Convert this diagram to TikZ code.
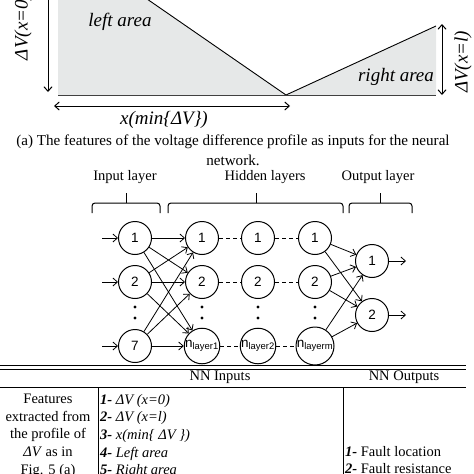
\documentclass[tikz,border=0pt]{standalone}
\usepackage{fontspec}
\setmainfont{Liberation Serif}
\setsansfont{Liberation Sans}
\usetikzlibrary{arrows.meta}

\definecolor{areagray}{HTML}{E6E8E8}

\tikzset{>={Straight Barb[length=4.5pt,width=8pt]}}
\tikzstyle{neuron} = [circle, draw, line width=1pt, minimum size=33pt,
    inner sep=0pt, font=\sffamily\fontsize{13.5}{13.5}\selectfont]
\tikzstyle{synapse} = [->, line width=0.8pt]
\tikzstyle{dashlink} = [line width=1pt, dash pattern=on 4pt off 3pt]
\tikzstyle{dimarrow} = [<->, line width=1pt]
\tikzstyle{layerbrace} = [line width=1pt, rounded corners=3pt]
\tikzstyle{ftext} = [inner sep=0pt, font=\fontsize{14.5}{17.6}\selectfont]
\tikzstyle{captext} = [inner sep=0pt, font=\fontsize{15.1}{15.1}\selectfont]
\tikzstyle{areatext} = [inner sep=0pt, font=\itshape\fontsize{19}{19}\selectfont]
\tikzstyle{rule} = [line width=0.8pt]

\begin{document}
\begin{tikzpicture}[x=1pt,y=-1pt]
	\useasboundingbox (0,0) rectangle (474,474);
	\clip (0,0) rectangle (474,474);
	% voltage difference profile
	\fill[areagray] (58,-10) -- (134,-10) -- (286,95) -- (58,95) -- cycle;
	\fill[areagray] (286,95) -- (436,26) -- (436,95) -- cycle;
	\draw[line width=0.9pt] (134,-10) -- (286,95) -- (436,26);
	\draw[line width=1pt, black!75] (58,95) -- (436,95);
	\draw[dimarrow] (48,-30) -- (48,92);
	\draw[dimarrow] (442,24) -- (442,95);
	\draw[dimarrow] (54,106) -- (290,106);
	\node [areatext] (leftarea) at (120,22) {left area};
	\node [areatext] (rightarea) at (396,77) {right area};
	\node [areatext, rotate=90] (dvzero) at (23,27) {ΔV(x=0)};
	\node [areatext, rotate=90] (dvend) at (463,62) {ΔV(x=l)};
	\node [areatext] (xmin) at (164,120) {x(min\{ΔV\})};
	%
	\node [captext] (capa) at (233,142) {(a) The features of the voltage difference profile as inputs for the neural};
	\node [captext] (capb) at (233,160) {network.};
	%
	\node [ftext] (tin) at (125,177) {Input layer};
	\node [ftext] (thid) at (265,177) {Hidden layers};
	\node [ftext] (tout) at (378,177) {Output layer};
	\draw[layerbrace] (92,213) -- (92,203) -- (160,203) -- (160,213);
	\draw[layerbrace] (126,203) -- (126,193);
	\draw[layerbrace] (168,213) -- (168,203) -- (343,203) -- (343,213);
	\draw[layerbrace] (256,203) -- (256,193);
	\draw[layerbrace] (349,213) -- (349,203) -- (412,203) -- (412,213);
	\draw[layerbrace] (380,203) -- (380,193);
	% network
	\node [neuron] (ia) at (135,238) {1};
	\node [neuron] (ib) at (135,282) {2};
	\node [neuron] (ic) at (135,346) {7};
	%
	\node [neuron] (haa) at (202,238) {1};
	\node [neuron] (hab) at (202,282) {2};
	\node [neuron] (hac) at (202,346) {n\textsubscript{layer1}};
	%
	\node [neuron] (hba) at (258,238) {1};
	\node [neuron] (hbb) at (258,282) {2};
	\node [neuron] (hbc) at (258,346) {n\textsubscript{layer2}};
	%
	\node [neuron] (hca) at (315,238) {1};
	\node [neuron] (hcb) at (315,282) {2};
	\node [neuron] (hcc) at (315,346) {n\textsubscript{layerm}};
	%
	\node [neuron] (oa) at (372,261) {1};
	\node [neuron] (ob) at (372,315) {2};
	%
	\coordinate (xa) at (102,238);
	\coordinate (xb) at (102,282);
	\coordinate (xc) at (102,346);
	\coordinate (ya) at (406,261);
	\coordinate (yb) at (406,315);
	%
	\fill (135,307) circle (1.7); \fill (135,318) circle (1.7);
	\fill (202,307) circle (1.7); \fill (202,318) circle (1.7);
	\fill (258,307) circle (1.7); \fill (258,318) circle (1.7);
	\fill (315,307) circle (1.7); \fill (315,318) circle (1.7);
	%
	\draw[synapse] (xa) -- (ia);
	\draw[synapse] (xb) -- (ib);
	\draw[synapse] (xc) -- (ic);
	%
	\draw[synapse] (ia) -- (haa);
	\draw[synapse] (ia) -- (hab);
	\draw[synapse] (ia) -- (hac);
	\draw[synapse] (ib) -- (haa);
	\draw[synapse] (ib) -- (hab);
	\draw[synapse] (ib) -- (hac);
	\draw[synapse] (ic) -- (haa);
	\draw[synapse] (ic) -- (hab);
	\draw[synapse] (ic) -- (hac);
	%
	\draw[dashlink] (haa) -- (hba);
	\draw[dashlink] (hba) -- (hca);
	\draw[dashlink] (hab) -- (hbb);
	\draw[dashlink] (hbb) -- (hcb);
	\draw[dashlink] (hac) -- (hbc);
	\draw[dashlink] (hbc) -- (hcc);
	%
	\draw[synapse] (hca) -- (oa);
	\draw[synapse] (hca) -- (ob);
	\draw[synapse] (hcb) -- (oa);
	\draw[synapse] (hcb) -- (ob);
	\draw[synapse] (hcc) -- (oa);
	\draw[synapse] (hcc) -- (ob);
	%
	\draw[synapse] (oa) -- (ya);
	\draw[synapse] (ob) -- (yb);
	% table
	\draw[rule] (0,365) -- (466,365);
	\draw[rule] (0,369) -- (466,369);
	\draw[rule] (0,387) -- (466,387);
	\draw[rule] (98,387) -- (98,480);
	\draw[rule] (343,387) -- (343,480);
	\node [ftext] (nnin) at (220,377) {NN Inputs};
	\node [ftext] (nnout) at (404,377) {NN Outputs};
	\node [ftext, align=center, anchor=north] (feat) at (48,394)
		{Features\\extracted from\\the profile of\\\textit{ΔV} as in\\Fig. 5 (a)};
	\node [ftext, align=left, anchor=north west] (inlist) at (100,394)
		{\textit{\textbf{1-} ΔV (x=0)}\\\textit{\textbf{2-} ΔV (x=l)}\\\textit{\textbf{3-} x(min\{ ΔV \})}\\\textit{\textbf{4-} Left area}\\\textit{\textbf{5-} Right area}};
	\node [ftext, align=left, anchor=north west] (outlist) at (345,446)
		{\textit{\textbf{1-}} Fault location\\\textit{\textbf{2-}} Fault resistance};
\end{tikzpicture}
\end{document}
